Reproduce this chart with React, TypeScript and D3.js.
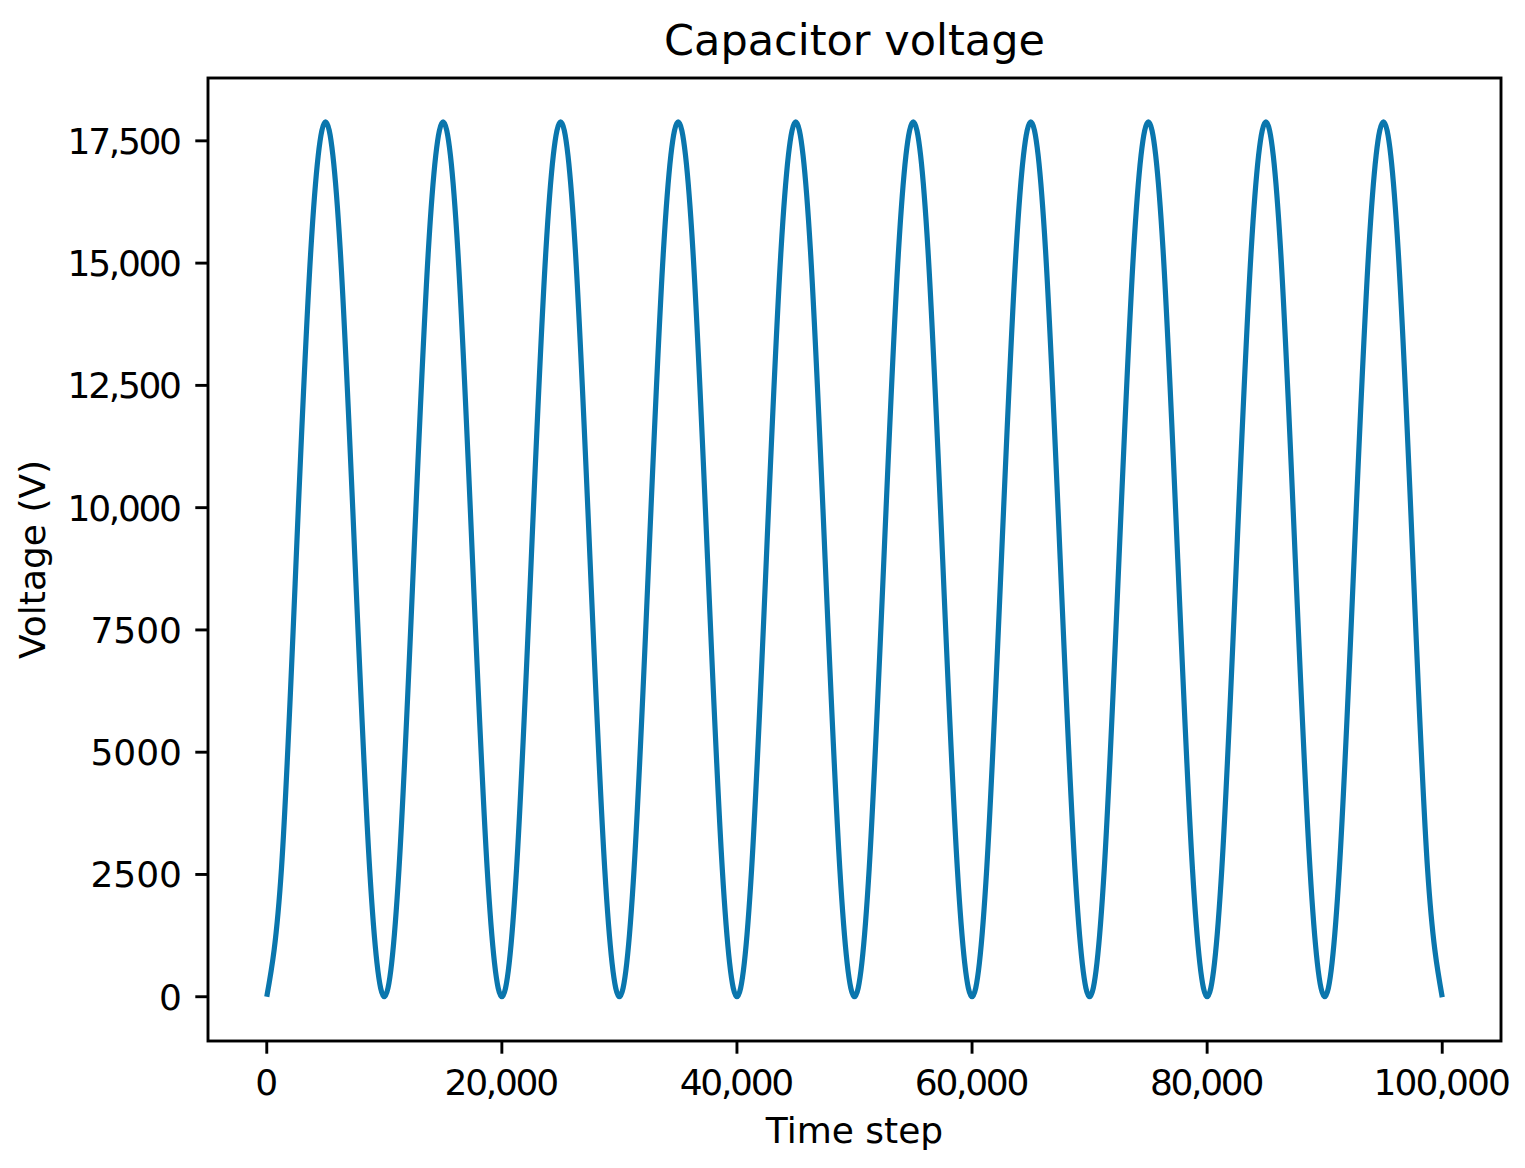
import React from "react";
import * as d3 from "d3";

const title = "Capacitor voltage";
const xLabel = "Time step";
const yLabel = "Voltage (V)";

const xTicks = [0, 20000, 40000, 60000, 80000, 100000];
const yTicks = [0, 2500, 5000, 7500, 10000, 12500, 15000, 17500];

const stepSize = 1250;
const voltage = [
  0, 2620, 8945, 15270, 17890, 15270, 8945, 2620,
  0, 2620, 8945, 15270, 17890, 15270, 8945, 2620,
  0, 2620, 8945, 15270, 17890, 15270, 8945, 2620,
  0, 2620, 8945, 15270, 17890, 15270, 8945, 2620,
  0, 2620, 8945, 15270, 17890, 15270, 8945, 2620,
  0, 2620, 8945, 15270, 17890, 15270, 8945, 2620,
  0, 2620, 8945, 15270, 17890, 15270, 8945, 2620,
  0, 2620, 8945, 15270, 17890, 15270, 8945, 2620,
  0, 2620, 8945, 15270, 17890, 15270, 8945, 2620,
  0, 2620, 8945, 15270, 17890, 15270, 8945, 2620,
  -10,
];

const W = 1525;
const H = 1168;
const left = 208;
const right = 1501;
const top = 78;
const bottom = 1041;
const FONT = "'DejaVu Sans', sans-serif";
const LINE = "#0a76ad";
const FS = 36;
const DIGIT_W = 0.636;

function TickText({ v, ...rest }: any) {
  const plain = String(v);
  if (Math.abs(v) >= 10000) {
    const label = d3.format(",")(v);
    return (
      <text {...rest} textLength={plain.length * DIGIT_W * FS} lengthAdjust="spacing">
        {label}
      </text>
    );
  }
  return <text {...rest}>{plain}</text>;
}

export default function App() {
  const data = voltage.map((v, i) => ({ t: i * stepSize, v }));
  const x = d3.scaleLinear().domain([-5000, 105000]).range([left, right]);
  const yMin = d3.min(voltage)!;
  const yMax = d3.max(voltage)!;
  const pad = (yMax - yMin) * 0.05;
  const y = d3.scaleLinear().domain([yMin - pad, yMax + pad]).range([bottom, top]);
  const line = d3
    .line<{ t: number; v: number }>()
    .x((d) => x(d.t))
    .y((d) => y(d.v))
    .curve(d3.curveNatural);

  const tickLen = 12.7;
  const sw = 2.9;

  return (
    <svg
      width={W}
      height={H}
      style={{ position: "absolute", left: 0, top: 0, background: "#fff" }}
      fontFamily={FONT}
    >
      <rect x={0} y={0} width={W} height={H} fill="#fff" />
      <defs>
        <clipPath id="plot">
          <rect x={left} y={top} width={right - left} height={bottom - top} />
        </clipPath>
      </defs>
      <path
        d={line(data) || ""}
        fill="none"
        stroke={LINE}
        strokeWidth={5.2}
        strokeLinejoin="round"
        strokeLinecap="butt"
        clipPath="url(#plot)"
      />
      <rect
        x={left}
        y={top}
        width={right - left}
        height={bottom - top}
        fill="none"
        stroke="#000"
        strokeWidth={sw}
      />
      {xTicks.map((t) => (
        <g key={"x" + t}>
          <line x1={x(t)} x2={x(t)} y1={bottom} y2={bottom + tickLen} stroke="#000" strokeWidth={sw} />
          <TickText v={t} x={x(t)} y={1095} textAnchor="middle" fontSize={FS} fill="#000" />
        </g>
      ))}
      {yTicks.map((t) => (
        <g key={"y" + t}>
          <line x1={left - tickLen} x2={left} y1={y(t)} y2={y(t)} stroke="#000" strokeWidth={sw} />
          <TickText v={t} x={182} y={y(t) + 13} textAnchor="end" fontSize={FS} fill="#000" />
        </g>
      ))}
      <text x={(left + right) / 2} y={1143} textAnchor="middle" fontSize={FS} fill="#000">
        {xLabel}
      </text>
      <text
        transform={`translate(45, ${(top + bottom) / 2}) rotate(-90)`}
        textAnchor="middle"
        fontSize={FS}
        fill="#000"
      >
        {yLabel}
      </text>
      <text x={(left + right) / 2} y={55} textAnchor="middle" fontSize={43} fill="#000">
        {title}
      </text>
    </svg>
  );
}
